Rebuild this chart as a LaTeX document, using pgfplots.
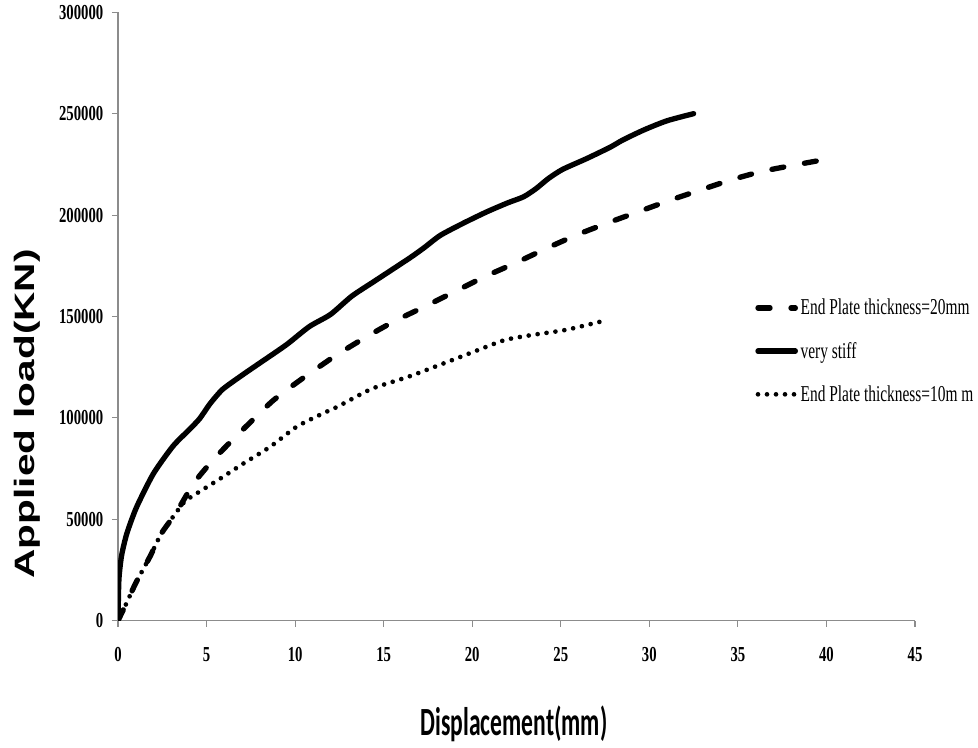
\documentclass[border=0pt]{standalone}
\usepackage{fontspec}
\setmainfont{Liberation Serif}
\newfontfamily\tickfont[FakeStretch=0.69]{Liberation Serif}
\newfontfamily\legfont[FakeStretch=0.68]{Liberation Serif}
\newfontfamily\ylabfont[FakeStretch=1.45]{Liberation Sans}
\newfontfamily\xlabfont[FakeStretch=0.59]{Carlito}
\usepackage{pgfplots}
\pgfplotsset{compat=1.18}
\begin{document}
\begin{tikzpicture}
\useasboundingbox (0,0) rectangle (733.5pt,561pt);
\begin{axis}[
  at={(88.5pt,95.5pt)}, anchor=south west,
  scale only axis, width=597.75pt, height=456.3pt,
  xmin=0, xmax=45, ymin=0, ymax=300000,
  axis lines*=left,
  axis line style={black!45, line width=0.8pt},
  xtick={0,5,...,45}, ytick={0,50000,...,300000},
  tick align=outside, major tick length=4.5pt,
  tick style={black!45, line width=0.8pt},
  scaled ticks=false,
  /pgf/number format/fixed,
  /pgf/number format/1000 sep={},
  /pgf/number format/assume math mode=true,
  ticklabel style={font=\fontsize{16}{19}\tickfont\bfseries},
  xticklabel style={yshift=-12pt},
  yticklabel style={xshift=-3pt},
  xlabel={Displacement(mm)},
  ylabel={Applied load(KN)},
  xlabel style={font=\fontsize{30}{34}\xlabfont\bfseries, at={(axis description cs:0.497,-0.17)}, anchor=center},
  ylabel style={font=\fontsize{21}{24}\ylabfont\bfseries, at={(axis description cs:-0.114,0.34)}, anchor=center, rotate=0},
  legend style={draw=none, fill=none, at={(axis cs:35.97,160000)}, anchor=north west,
    font=\fontsize{17}{17}\legfont, row sep=15pt, inner sep=0pt, cells={anchor=west}},
  legend image code/.code={\draw[#1] (0pt,0pt) -- (28pt,0pt);},
  every axis plot/.append style={black},
]
\addplot[line width=4pt, line cap=round, smooth, tension=0.4, dash pattern=on 9pt off 15.75pt] coordinates {
(0,0)(0.5,9000)(1.0,18500)(1.8,31500)(2.45,43000)(3.3,53500)(4.3,68000)(5.5,80500)(7.2,95500)(8.75,108500)(10.3,118700)(12.2,130200)(13.9,139300)(15.55,147400)(17.3,154800)(19.0,162200)(20.7,169600)(22.4,176200)(24.2,183600)(25.9,190200)(27.7,196300)(29.4,201700)(31.2,207400)(32.9,212400)(34.6,217300)(36.3,221400)(38.1,224500)(40.3,228000)
};
\addlegendentry{End Plate thickness=20mm}
\addplot[line width=4pt, line cap=round, line join=round, smooth, tension=0.4] coordinates {
(0,0)(0.05,20000)(0.2,32000)(0.5,43000)(1.05,56000)(2.0,72500)(3.1,86000)(4.0,94000)(4.6,99500)(5.2,107000)(5.9,114000)(7.0,121000)(8.0,127000)(9.5,136000)(10.8,145000)(12.0,151000)(13.2,160000)(14.5,167500)(16.5,179000)(17.3,184000)(18.2,190000)(19.5,196000)(20.8,201500)(22.0,206000)(22.9,209000)(23.6,213000)(24.3,218000)(25.1,222500)(26.5,228000)(27.8,233500)(28.5,237000)(29.7,242000)(31.0,246500)(32.5,250000)
};
\addlegendentry{very stiff}
\addplot[line width=3.5pt, line cap=round, smooth, tension=0.4, dash pattern=on 0pt off 6.75pt] coordinates {
(0,0)(0.5,9000)(1.0,18500)(1.8,31500)(2.45,43000)(3.3,53500)(3.8,59000)(4.6,63600)(5.8,70200)(7.1,77600)(8.6,85800)(10.1,95700)(11.6,102300)(12.4,105500)(13.1,108800)(14.4,114600)(16.4,120300)(18.4,126900)(20.35,133500)(21.85,138400)(23.4,140900)(25.3,143400)(27.5,148000)
};
\addlegendentry{End Plate thickness=10m m}
\end{axis}
\end{tikzpicture}
\end{document}
